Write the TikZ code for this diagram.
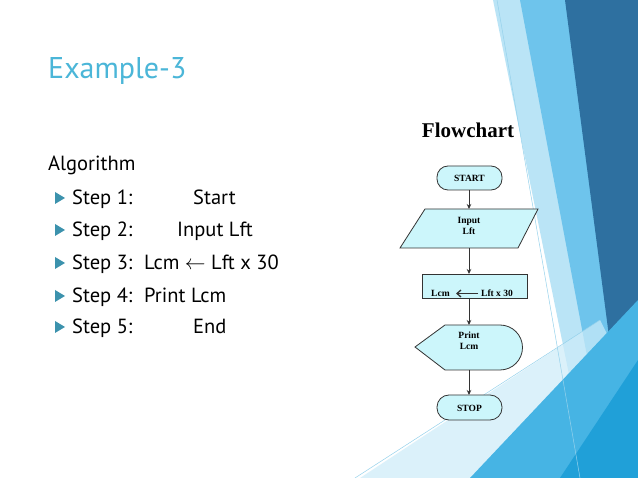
\documentclass[tikz,border=0pt]{standalone}
\usepackage{fontspec}
\setmainfont{PT Sans}
\newfontfamily\tnr{Liberation Serif}
\usetikzlibrary{arrows.meta}
\definecolor{ttl}{HTML}{4BB6D8}
\definecolor{boxf}{HTML}{CCF6FB}
\definecolor{boxd}{HTML}{333333}
\tikzset{
 shp/.style={draw=boxd,fill=boxf,line width=0.8pt},
 lbl/.style={font=\tnr\bfseries\fontsize{9.5}{10.5}\selectfont,align=center,inner sep=0},
 conn/.style={draw=boxd,line width=1pt,-{Stealth[length=5pt,width=4.5pt]}},
 txt/.style={anchor=base west,font=\fontsize{20.5}{23}\selectfont,inner sep=0},
 bul/.style={fill=ttl!80!black,draw=none}
}
\begin{document}
\begin{tikzpicture}[x=1pt,y=-1pt]
\useasboundingbox (0,0) rectangle (638,478);
% background decoration
\fill[white] (0,0) rectangle (638,478);
\fill[color={rgb,255:red,186;green,228;blue,246}] (493,0)--(638,0)--(638,478)--(590,478)--cycle;
\fill[color={rgb,255:red,110;green,196;blue,236}] (520,0)--(638,0)--(638,478)--(610,478)--cycle;
\fill[color={rgb,255:red,46;green,112;blue,160}] (565,0)--(638,0)--(638,330)--(613,367)--cycle;
\fill[color={rgb,255:red,205;green,236;blue,249},opacity=0.7] (360,478)--(600,320)--(610,340)--(470,478)--cycle;
\fill[color={rgb,255:red,70;green,180;blue,228}] (470,478)--(638,300)--(638,478)--cycle;
\fill[color={rgb,255:red,32;green,160;blue,216}] (560,478)--(638,360)--(638,478)--cycle;
\draw[color={rgb,255:red,150;green,210;blue,236},line width=0.5pt] (497,0)--(580,478);
\draw[color={rgb,255:red,150;green,210;blue,236},line width=0.5pt] (355,478)--(600,320);
% titles
\node[anchor=base west,text=ttl,font=\fontsize{30}{34}\selectfont,inner sep=0] (title) at (48,79) {Example-3};
\node[anchor=base west,font=\fontsize{20.5}{24}\selectfont,inner sep=0] (alg) at (48,171) {Algorithm};
\foreach \y/\i in {198/1,230/2,263/3,296/4,327/5}{
 \fill[bul] (55,\y-6)--(65,\y)--(55,\y+6)--cycle;
 \node[txt] (s\i) at (72,\y+6.5) {Step \i:};
}
\node[txt] (t1) at (193,204.5) {Start};
\node[txt] (t2) at (177,236.5) {Input Lft};
\node[txt] (t3) at (144,269.5) {Lcm $\leftarrow$ Lft x 30};
\node[txt] (t4) at (144,302.5) {Print Lcm};
\node[txt] (t5) at (193,333.5) {End};
\node[font=\tnr\bfseries\fontsize{21}{24}\selectfont,inner sep=0] (fc) at (468,130) {Flowchart};
% flowchart shapes
\draw[shp,rounded corners=11pt] (437,166) rectangle (502,190);
\node[lbl] (start) at (469.5,178) {START};
\draw[shp] (425,209)--(538,209)--(518,248)--(400,248)--cycle;
\node[lbl] (inp) at (469,226) {Input\\Lft};
\draw[shp] (422,274) rectangle (527,298);
\node[lbl,anchor=base west] (pa) at (431,297) {Lcm};
\node[lbl,anchor=base west] (pb) at (481,297) {Lft x 30};
\draw[boxd,line width=1.3pt,-{Straight Barb[length=4pt,width=7pt]}] (478,293.5)--(456,293.5);
\draw[shp] (415,347)--(445,325)--(500,325) arc[start angle=-90,end angle=90,radius=22.5]--(445,370)--cycle;
\node[lbl] (prt) at (469,341) {Print\\Lcm};
\draw[shp,rounded corners=12pt] (437,395) rectangle (502,420);
\node[lbl] (stop) at (469.5,408) {STOP};
\coordinate (a1) at (469,190); \coordinate (b1) at (469,209);
\coordinate (a2) at (469,248); \coordinate (b2) at (469,274);
\coordinate (a3) at (469,298); \coordinate (b3) at (469,325);
\coordinate (a4) at (469,370); \coordinate (b4) at (469,395);
\draw[conn] (a1)--(b1);
\draw[conn] (a2)--(b2);
\draw[conn] (a3)--(b3);
\draw[conn] (a4)--(b4);
\end{tikzpicture}
\end{document}
